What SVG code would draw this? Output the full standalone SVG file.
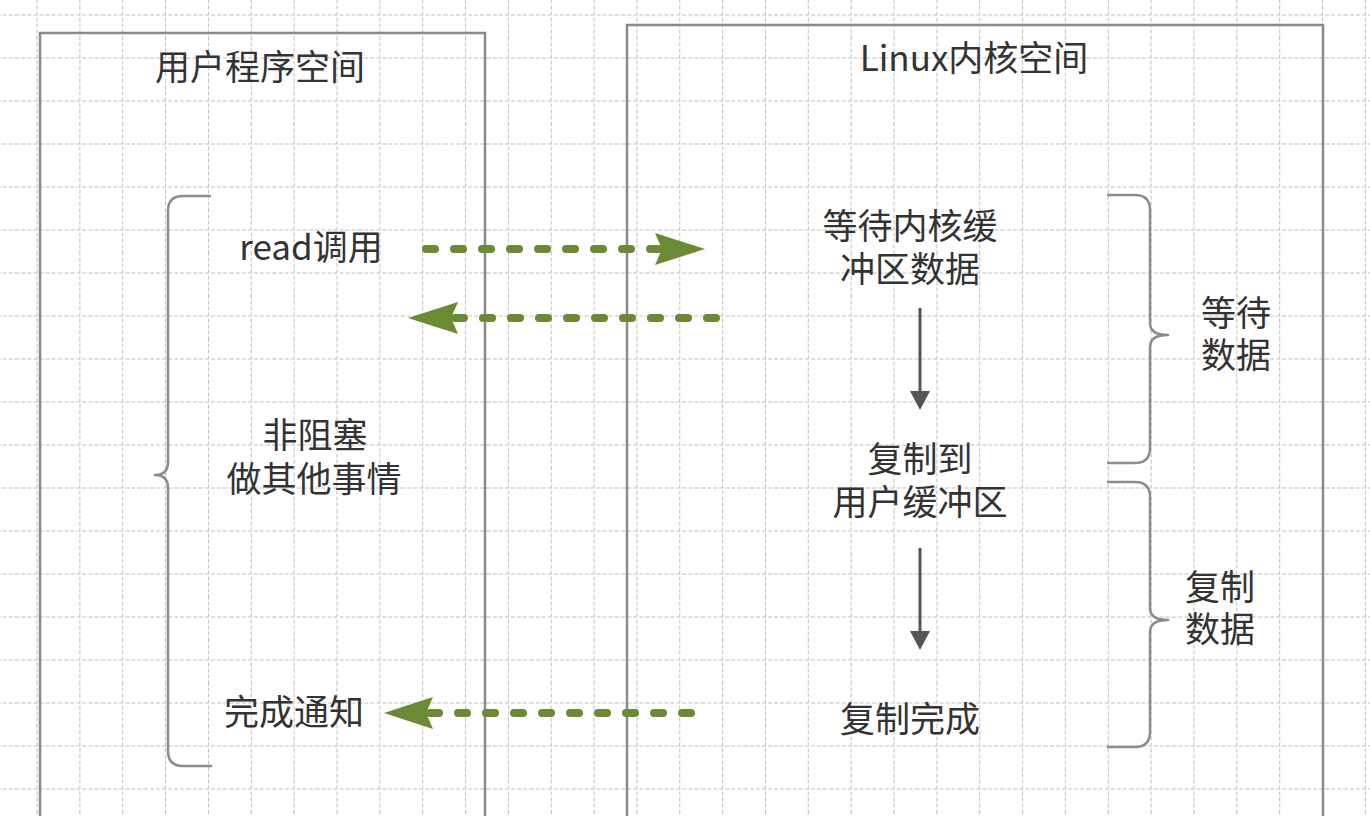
<svg xmlns="http://www.w3.org/2000/svg" width="1370" height="816" viewBox="0 0 1370 816">
  <defs>
    <style>
      .grid { stroke: #c0c0c0; stroke-width: 1; stroke-dasharray: 4 2; fill: none; }
      .frame { fill: none; stroke: #8a8a8a; stroke-width: 2.5; }
      .brace { fill: none; stroke: #8c8c8c; stroke-width: 2.5; stroke-linejoin: round; }
      .label { font-family: "Noto Sans CJK SC", "Noto Sans", sans-serif; font-size: 35px; fill: #333333; text-anchor: middle; }
      .flow { fill: none; stroke: #6a8a34; stroke-width: 8; stroke-linecap: round; stroke-dasharray: 9 19; }
      .flowhead { fill: #6a8a34; }
      .step { stroke: #555555; stroke-width: 3; fill: none; }
      .stephead { fill: #555555; }
    </style>
    <pattern id="gridTile" patternUnits="userSpaceOnUse" x="15.6" y="-6.5" width="42.85" height="43">
      <line class="grid" x1="21.4" y1="0" x2="21.4" y2="43"/>
      <line class="grid" x1="0" y1="21.5" x2="42.85" y2="21.5"/>
    </pattern>
  </defs>

  <rect width="1370" height="816" fill="#ffffff"/>
  <rect width="1370" height="816" fill="url(#gridTile)"/>

  <!-- user space column -->
  <g id="user-space">
    <path class="frame" d="M40,830 V33 H485 V830"/>
    <text class="label" x="260" y="80">用户程序空间</text>
  </g>

  <!-- kernel space column -->
  <g id="kernel-space">
    <path class="frame" d="M627,830 V25 H1323 V830"/>
    <text class="label" x="974" y="71">Linux内核空间</text>
  </g>

  <g id="user-brace">
    <path class="brace" d="M211,196 H183 Q168,196 168,211 V462 Q168,475 155,475 Q168,475 168,488 V751 Q168,766 183,766 H212"/>
  </g>

  <g id="read-call">
    <text class="label" x="311" y="260">read调用</text>
  </g>

  <g id="nonblocking">
    <text class="label" x="315" y="448">非阻塞</text>
    <text class="label" x="314" y="492">做其他事情</text>
  </g>

  <g id="done-notify">
    <text class="label" x="294" y="725">完成通知</text>
  </g>

  <g id="wait-kernel-buffer">
    <text class="label" x="910" y="239">等待内核缓</text>
    <text class="label" x="910" y="282">冲区数据</text>
  </g>

  <g id="copy-to-user">
    <text class="label" x="920" y="472">复制到</text>
    <text class="label" x="920" y="515">用户缓冲区</text>
  </g>

  <g id="copy-done">
    <text class="label" x="910" y="732">复制完成</text>
  </g>

  <g id="wait-phase">
    <path class="brace" d="M1107,195 H1135 Q1150,195 1150,210 V323 Q1150,335 1168,335 Q1150,335 1150,347 V448 Q1150,463 1135,463 H1107"/>
    <text class="label" x="1236" y="326">等待</text>
    <text class="label" x="1236" y="368">数据</text>
  </g>

  <g id="copy-phase">
    <path class="brace" d="M1107,482 H1135 Q1150,482 1150,497 V608 Q1150,620 1168,620 Q1150,620 1150,632 V732 Q1150,747 1135,747 H1107"/>
    <text class="label" x="1220" y="600">复制</text>
    <text class="label" x="1220" y="642">数据</text>
  </g>

  <g id="connectors">
    <!-- read call into kernel -->
    <line class="flow" x1="426" y1="249" x2="665" y2="249"/>
    <polygon class="flowhead" points="705,249 655,233 662,249 655,265"/>
    <!-- immediate return to user -->
    <line class="flow" x1="716" y1="318" x2="450" y2="318"/>
    <polygon class="flowhead" points="408,318 458,302 451,318 458,334"/>
    <!-- completion notification -->
    <line class="flow" x1="691" y1="713" x2="425" y2="713"/>
    <polygon class="flowhead" points="384,713 433,697 426,713 433,729"/>
    <!-- kernel steps -->
    <line class="step" x1="920" y1="308" x2="920" y2="395"/>
    <polygon class="stephead" points="910,391 930,391 920,410"/>
    <line class="step" x1="920" y1="548" x2="920" y2="635"/>
    <polygon class="stephead" points="910,631 930,631 920,650"/>
  </g>
</svg>
